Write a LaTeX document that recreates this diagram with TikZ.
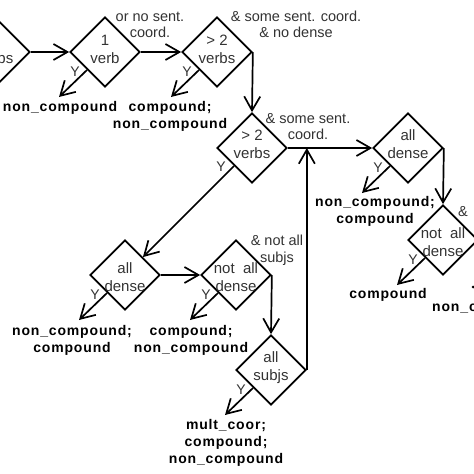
\documentclass[tikz,border=0pt]{standalone}
\usepackage{fontspec}
\setmainfont{Liberation Sans}
\newfontfamily\resfont{Liberation Sans}[LetterSpace=6]
\usetikzlibrary{shapes.geometric,arrows.meta,calc}
\begin{document}
\begin{tikzpicture}[x=1pt,y=-1pt,
  dia/.style={diamond,draw,line width=1.7pt,minimum width=70pt,minimum height=70pt,inner sep=0pt,aspect=1},
  dtxt/.style={align=center,text=black!80,font=\fontsize{15}{18}\selectfont,inner sep=0pt},
  elab/.style={align=center,text=black!80,font=\fontsize{14.5}{16.5}\selectfont,inner sep=0pt},
  res/.style={align=center,font=\resfont\bfseries\fontsize{14}{17}\selectfont,inner sep=0pt},
  ylab/.style={text=black!80,font=\fontsize{14}{16}\selectfont,inner sep=0pt},
  arr/.style={line width=1.7pt,-{Straight Barb[length=14pt,width=16pt,line width=1.7pt]}},
]
\useasboundingbox (0,0) rectangle (474,474);
\clip (0,0) rectangle (474,474);
\fill[white] (0,0) rectangle (474,474);

% diamonds
\node[dia] (d0) at (-5,52) {};
\node[dtxt] (t0) at (-5,58) {verbs};
\node[dia] (d1) at (105,52) {};
\node[dtxt] (t1) at (105,49) {1\\verb};
\node[dia] (d2) at (217,52) {};
\node[dtxt] (t2) at (217,49) {> 2\\verbs};
\node[dia] (d3) at (252,148) {};
\node[dtxt] (t3) at (252,144) {> 2\\verbs};
\node[dia] (d4) at (408,148) {};
\node[dtxt] (t4) at (408,144) {all\\dense};
\node[dia] (d5) at (443,240) {};
\node[dtxt] (t5) at (443,242) {not \ all\\dense};
\node[dia] (d6) at (125,275) {};
\node[dtxt] (t6) at (125,277) {all\\dense};
\node[dia] (d7) at (236,275) {};
\node[dtxt] (t7) at (236,277) {not \ all\\dense};
\node[dia] (d8) at (271,370) {};
\node[dtxt] (t8) at (271,368) {all\\subjs};

% main arrows
\draw[arr] (d0.east) -- (d1.west);
\draw[arr] (d1.east) -- (d2.west);
\draw[arr] (d2.east) -- (d3.north);
\draw[arr] (d3.east) -- (d4.west);
\draw[arr] (d4.east) -- (d5.north);
\draw[arr] (d6.east) -- (d7.west);
\draw[arr] (d7.east) -- (d8.north);
\coordinate (j) at (d8.east |- d3.east);
\draw[arr] (d8.east) -- (j);
\draw[arr] (d3.south west) -- (d6.north east);

% Y arrows
\foreach \d in {d1,d2,d4,d5,d6,d7,d8}{
  \coordinate (\d y) at ($(\d)+(-46,45)$);
  \draw[arr] (\d.south west) -- (\d y);
  \node[ylab] (\d yl) at ($(\d)+(-30,20)$) {Y};
}
\node[ylab] (d3yl) at ($(d3)+(-31,19)$) {Y};

% result labels
\node[res] (r1) at (60,108) {non\_compound};
\node[res] (r2) at (170,116.5) {compound;\\non\_compound};
\node[res] (r4) at (375,211.5) {non\_compound;\\compound};
\node[res] (r5) at (388,295) {compound};
\node[res,anchor=west] (r9) at (432,308) {non\_compound};
\node[res] (r6) at (72,340) {non\_compound;\\compound};
\node[res] (r7) at (191,340) {compound;\\non\_compound};
\node[res] (r8) at (226,443) {mult\_coor;\\compound;\\non\_compound};
\fill (473,287) circle (1.5);

% edge labels
\node[elab] (e1) at (150,25) {or no sent.\\coord.};
\node[elab] (e2) at (296,24.5) {\& some sent. coord.\\\& no dense};
\node[elab] (e3) at (308,126.5) {\& some sent.\\coord.};
\node[elab] (e4) at (277,250) {\& not all\\subjs};
\node[elab] (e5) at (463,212) {\&};
\end{tikzpicture}
\end{document}
